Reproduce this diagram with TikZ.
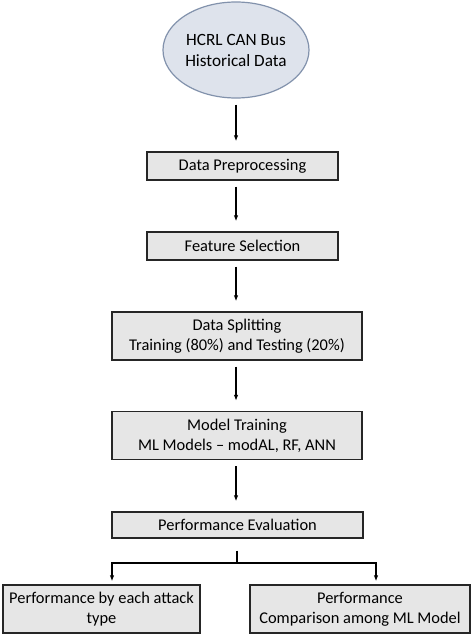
\documentclass[tikz,border=0pt]{standalone}
\usepackage{fontspec}
\setmainfont{Carlito}
\usetikzlibrary{shapes.geometric,arrows.meta}

\definecolor{boxfill}{HTML}{E6E6E6}
\definecolor{ovalfill}{HTML}{DEE3EC}
\definecolor{ovaldraw}{HTML}{8292AC}

\begin{document}
\begin{tikzpicture}[
		x=1pt,y=-1pt,
		every node/.style={font=\fontsize{16.4}{20}\selectfont,align=center,inner sep=0pt},
		stepbox/.style={draw=black!85,line width=1.3pt,fill=boxfill,minimum width=191pt,minimum height=28pt},
		widebox/.style={stepbox,minimum width=250pt,minimum height=48pt},
		datasource/.style={ellipse,draw=ovaldraw,line width=1.2pt,fill=ovalfill,minimum width=146pt,minimum height=96pt,font=\fontsize{17.2}{21}\selectfont},
		flow/.style={line width=1.3pt,-{Latex[length=6pt,width=4.5pt]},shorten <=6pt,shorten >=10pt}
		]
		\useasboundingbox (0,0) rectangle (474,634);
		\node[datasource] (hcrl) at (236,50) {HCRL CAN Bus\\Historical Data};
		\node[stepbox] (prep) at (242.5,166) {Data Preprocessing};
		\node[stepbox] (feat) at (242.5,246) {Feature Selection};
		\node[widebox] (split) at (237,336) {Data Splitting\\Training (80\%) and Testing (20\%)};
		\node[widebox] (train) at (237,435.5) {Model Training\\ML Models -- modAL, RF, ANN};
		\node[stepbox,minimum width=251pt,minimum height=26pt] (eval) at (237.5,525) {Performance Evaluation};
		\node[widebox,minimum width=197pt] (byattack) at (101.5,609) {Performance by each attack\\type};
		\node[widebox,minimum width=220pt] (compare) at (360,609) {Performance\\Comparison among ML Model};
		% main chain
		\foreach \a/\b in {hcrl/prep,prep/feat,feat/split,split/train,train/eval}
		\draw[flow] (\a.south -| hcrl.south) -- (\b.north -| hcrl.south);
		% branch to the two results
		\coordinate (fork) at (237,563);
		\draw[line width=1.3pt,shorten <=12pt] (eval.south -| fork) -- (fork);
		\draw[flow,shorten <=0pt,shorten >=3pt] (fork) -| ([xshift=10.5pt]byattack.north);
		\draw[flow,shorten <=0pt,shorten >=3pt] (fork) -| ([xshift=16pt]compare.north);
\end{tikzpicture}
\end{document}
